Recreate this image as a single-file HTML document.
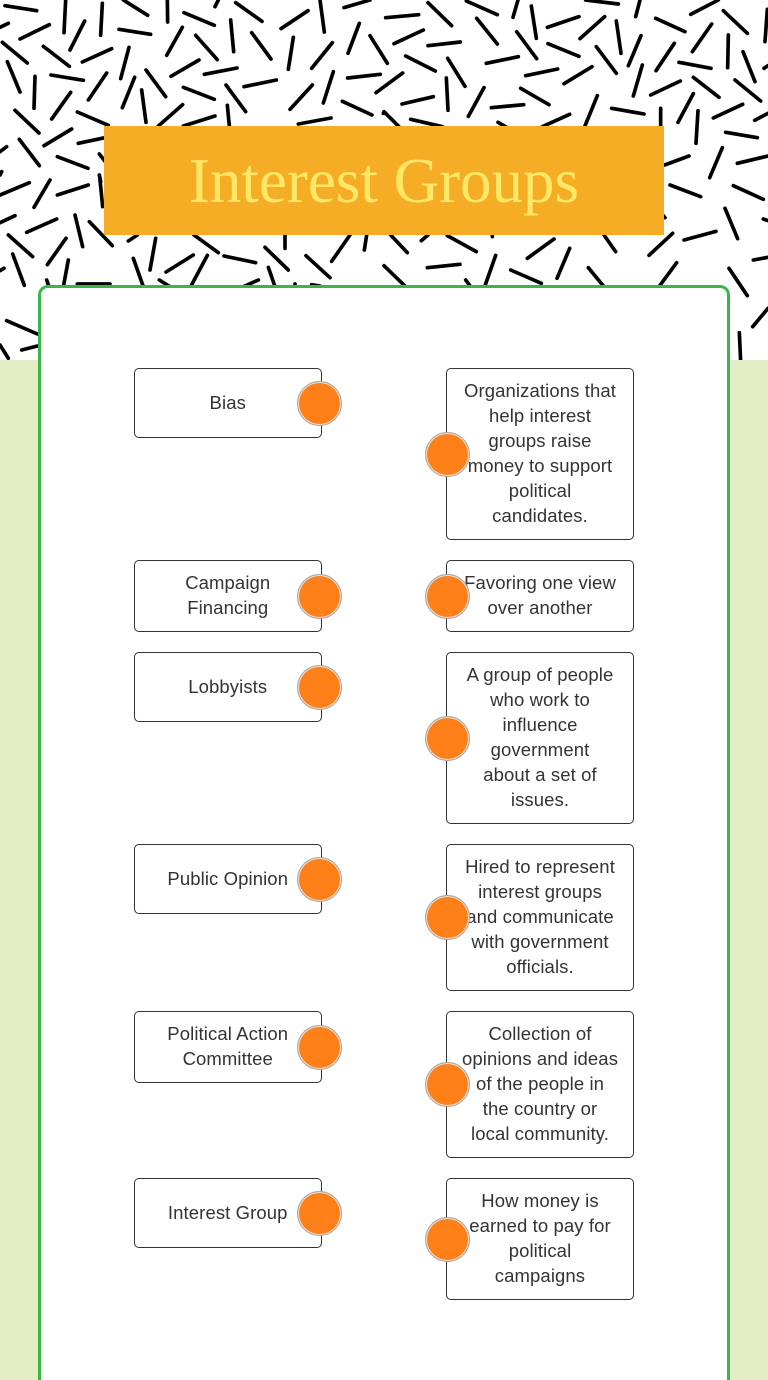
<!DOCTYPE html>
<html><head><meta charset="utf-8"><style>
html,body{margin:0;padding:0;background:#fff;width:768px;height:1380px;overflow:hidden}
#p{position:relative;width:768px;height:1380px;overflow:hidden;background:#fff;font-family:"Liberation Sans",sans-serif;color:#333}
#g{position:absolute;left:0;top:360px;width:768px;height:1020px;background:#e2edc3}
#s{position:absolute;left:0;top:0}
#t{position:absolute;left:104px;top:126px;width:560px;height:109px;background:#f6ad26;color:#ffe866;font:63px/111px "Liberation Serif",serif;text-align:center}
#m{position:absolute;left:38px;top:285px;width:686px;height:1092px;border:3px solid #3ab54a;border-bottom:0;border-radius:10px 10px 0 0;background:#fff}
.b{position:absolute;box-sizing:border-box;border:1px solid #333;border-radius:5px;background:#fff;display:flex;align-items:center;justify-content:center;text-align:center;font-size:18.5px;letter-spacing:.1px;line-height:25px;white-space:nowrap;padding-bottom:2px}
.l{left:134px;width:187.5px}.r{left:446px;width:188px}
.c{position:absolute;box-sizing:border-box;width:45px;height:45px;border-radius:50%;background:#ff7f18;border:1px solid #a9a9a9;box-shadow:inset 0 0 0 1px #efe6dc}
.a{left:297px}.d{left:425px}
</style></head><body><div id="p">
<div id="g"></div>
<svg id="s" width="768" height="360" viewBox="0 0 2304 1080" fill="none" stroke="#000" stroke-width="11" stroke-linecap="round">
<path d="M15 17L110 32M197 0L192 98M307 10L302 106M370 0L443 46M502 0L503 66M655 0L645 20M707 8L786 64M960 0L973 96M1032 23L1110 0M0 82L25 70M60 117L148 74M254 63L210 150M357 88L452 103M547 82L500 166M552 38L643 76M692 60L701 155M755 98L813 177M843 86L924 32M880 112L865 208M1078 70L1044 160M1110 107L1162 190M7 127L82 189M130 139L208 199M247 186L335 146M387 142L362 236M587 106L652 179M997 128L935 205M22 185L60 276M105 229L102 325M153 225L250 241M320 219L265 300M404 232L367 323M438 210L497 290M513 229L597 180M613 223L711 204M732 260L829 240M1000 215L970 309M1043 234L1141 223M1128 278L1208 219M425 270L438 367M550 262L643 298M678 255L737 335M937 255L870 328M45 331L117 399M212 277L155 357M232 336L325 376M548 314L475 378M550 378L645 348M682 316L688 378M1027 304L1116 345M895 372L993 354M1150 340L1152 340M215 387L132 437M235 430L320 412M58 418L118 497M0 455L20 440M172 470L264 505M298 462L320 490M0 525L5 515M298 525L302 545"/>
<g transform="translate(1152 0)"><path d="M5 53L104 44M132 8L203 77M247 3L340 44M402 0L387 52M442 18L457 115M605 0L703 12M768 0L755 50M490 82L585 50M588 116L662 50M697 63L711 160M815 55L903 95M920 43L1003 0M1018 32L1090 100M1150 28L1143 125M30 131L118 90M132 137L229 126M278 55L340 132M398 95L458 176M492 131L585 169M733 197L771 107M637 140L697 220M983 72L925 155M1033 105L1031 203M65 168L154 213M191 175L243 259M307 190L403 170M425 227L521 207M540 251L624 200M871 130L816 212M885 187L981 205M1077 155L1113 245M1140 205L1152 197M187 234L192 331M775 195L748 288M800 285L889 243M928 232L1005 292M1053 240L1130 303M300 263L253 349M54 312L148 290M410 265L495 314M322 323L419 314M683 325L780 342M640 287L600 385M928 281L882 367M830 325L830 385M942 332L936 430M988 354L1076 313M1112 361L1152 340M1025 397L1120 413M0 335L50 385M80 358L175 380M342 367L365 380M475 380L557 343M842 495L915 468M1015 443L977 533M1060 490L1152 468"/></g>
<g transform="translate(0 540)"><path d="M0 45L88 8M150 0L102 82M172 45L265 15M300 0L308 80M0 128L45 107M80 157L170 117M225 105L248 200M268 125L337 197M25 165L98 230M198 175L142 254M385 183L412 165M467 175L450 270M582 165L655 218M672 228L767 248M855 165L855 205M1050 165L995 244M1100 165L1093 210M795 202L865 270M918 227L990 293M580 225L498 276M622 226L572 320M400 235L430 320M805 262L825 320M38 222L73 316M205 240L190 320M0 272L12 265M140 300L147 320M232 312L330 312M478 300L510 320M775 300L730 320M885 312L885 316M935 314L960 318M20 422L112 462M65 510L112 498M0 495L25 535"/></g>
<g transform="translate(1152 540)"><path d="M858 15L950 50M1048 17L1138 58M1023 85L1061 176M1138 117L1152 122M900 180L996 154M795 226L866 160M836 105L843 113M20 165L70 218M112 182L132 165M190 167L277 215M325 168L325 170M660 165L695 215M430 235L510 177M130 263L228 253M557 205L519 295M335 226L302 320M0 257L65 320M380 270L472 310M245 300L260 320M613 263L660 320M878 248L825 320M1108 240L1152 232M1035 265L1090 347M1152 385L1106 440M1066 458L1070 545"/></g>
</svg>
<div id="t">Interest Groups</div>
<div id="m"></div>

<div class="b l" style="top:368px;height:70px">Bias</div>
<div class="b l" style="top:560px;height:72px">Campaign<br>Financing</div>
<div class="b l" style="top:652px;height:70px">Lobbyists</div>
<div class="b l" style="top:844px;height:70px">Public Opinion</div>
<div class="b l" style="top:1011px;height:72px">Political Action<br>Committee</div>
<div class="b l" style="top:1178px;height:70px">Interest Group</div>

<div class="b r" style="top:368px;height:172px">Organizations that<br>help interest<br>groups raise<br>money to support<br>political<br>candidates.</div>
<div class="b r" style="top:560px;height:72px">Favoring one view<br>over another</div>
<div class="b r" style="top:652px;height:172px">A group of people<br>who work to<br>influence<br>government<br>about a set of<br>issues.</div>
<div class="b r" style="top:844px;height:147px">Hired to represent<br>interest groups<br>and communicate<br>with government<br>officials.</div>
<div class="b r" style="top:1011px;height:147px">Collection of<br>opinions and ideas<br>of the people in<br>the country or<br>local community.</div>
<div class="b r" style="top:1178px;height:122px">How money is<br>earned to pay for<br>political<br>campaigns</div>

<div class="c a" style="top:381px"></div>
<div class="c a" style="top:574px"></div>
<div class="c a" style="top:665px"></div>
<div class="c a" style="top:857px"></div>
<div class="c a" style="top:1025px"></div>
<div class="c a" style="top:1191px"></div>
<div class="c d" style="top:432px"></div>
<div class="c d" style="top:574px"></div>
<div class="c d" style="top:716px"></div>
<div class="c d" style="top:895px"></div>
<div class="c d" style="top:1062px"></div>
<div class="c d" style="top:1217px"></div>
</div></body></html>
